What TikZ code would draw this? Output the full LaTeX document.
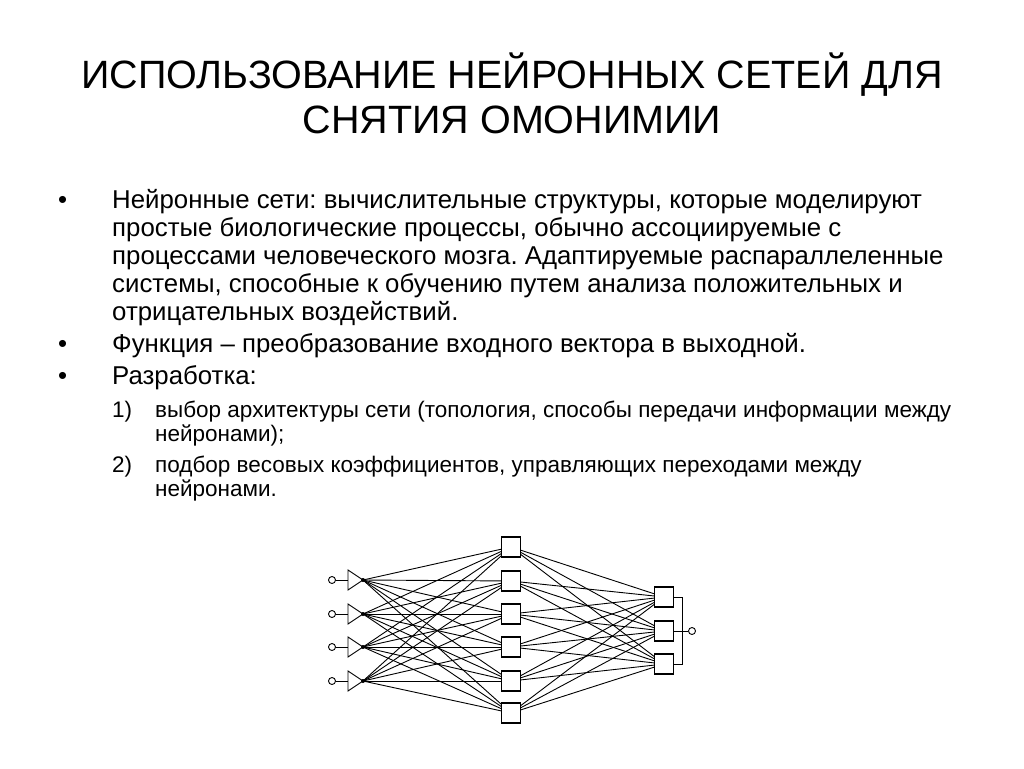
\documentclass[tikz,border=0pt]{standalone}
\usepackage{fontspec}
\setmainfont{Liberation Sans}
\frenchspacing
\begin{document}
\begin{tikzpicture}[x=1pt,y=-1pt,
  title/.style={anchor=base,inner sep=0pt,font=\fontsize{39.5}{44}\selectfont},
  body/.style={anchor=base west,inner sep=0pt,font=\fontsize{25.8}{28}\selectfont},
  sub/.style={anchor=base west,inner sep=0pt,font=\fontsize{22.5}{24}\selectfont},
  hbox/.style={draw,line width=1.1pt,minimum width=19pt,minimum height=20pt,inner sep=0pt,fill=white},
  incirc/.style={draw,line width=0.9pt,circle,minimum size=7pt,inner sep=0pt},
  wire/.style={line width=0.9pt}]
\useasboundingbox (0,0) rectangle (1024,768);
\fill[white] (0,0) rectangle (1024,768);
\node[title] (t1) at (512,88) {ИСПОЛЬЗОВАНИЕ НЕЙРОННЫХ СЕТЕЙ ДЛЯ};
\node[title] (t2) at (512,133) {СНЯТИЯ ОМОНИМИИ};
\node[body] (b1) at (58,208) {•};
\node[body] (b2) at (58,352) {•};
\node[body] (b3) at (58,384) {•};
\node[body] (l1) at (112,208) {Нейронные сети: вычислительные структуры, которые моделируют};
\node[body] (l2) at (112,236) {простые биологические процессы, обычно ассоциируемые с};
\node[body] (l3) at (112,264) {процессами человеческого мозга. Адаптируемые распараллеленные};
\node[body] (l4) at (112,292) {системы, способные к обучению путем анализа положительных и};
\node[body] (l5) at (112,320) {отрицательных воздействий.};
\node[body] (l6) at (112,352) {Функция – преобразование входного вектора в выходной.};
\node[body] (l7) at (112,384) {Разработка:};
\node[sub] (n1) at (112,417) {1)};
\node[sub] (s1) at (155,417) {выбор архитектуры сети (топология, способы передачи информации между};
\node[sub] (s2) at (155,441) {нейронами);};
\node[sub] (n2) at (112,472) {2)};
\node[sub] (s3) at (155,472) {подбор весовых коэффициентов, управляющих переходами между};
\node[sub] (s4) at (155,496) {нейронами.};
% network
\foreach \i/\y in {1/580,2/614,3/647,4/681}{
  \node[incirc] (c\i) at (332,\y) {};
  \coordinate (tl\i) at (348,\y);
  \coordinate (a\i) at (363,\y);
  \draw[wire] (c\i) -- (tl\i);
  \draw[line width=0.9pt] (348,\y-10) -- (a\i) -- (348,\y+10) -- cycle;
  \fill (a\i) circle (2pt);
}
\foreach \j/\y in {1/547,2/581,3/614,4/647,5/681,6/713}{
  \coordinate (hp\j) at (511,\y);
}
\foreach \k/\y in {1/597,2/631,3/664}{
  \coordinate (op\k) at (664,\y);
}
\foreach \i in {1,...,4}{\foreach \j in {1,...,6}{
  \draw[wire] (a\i) -- (hp\j);}}
\foreach \j in {1,...,6}{\foreach \k in {1,...,3}{
  \draw[wire] (hp\j) -- (op\k);}}
\foreach \j in {1,...,6}{\node[hbox] (h\j) at (hp\j) {};}
\foreach \k in {1,...,3}{\node[hbox] (o\k) at (op\k) {};}
\coordinate (br1) at (682,597);
\coordinate (br3) at (682,664);
\draw[wire] (o1.east) -- (br1) -- (br3) -- (o3.east);
\node[incirc] (oc) at (692,631) {};
\draw[wire] (o2.east) -- (oc);
\end{tikzpicture}
\end{document}
